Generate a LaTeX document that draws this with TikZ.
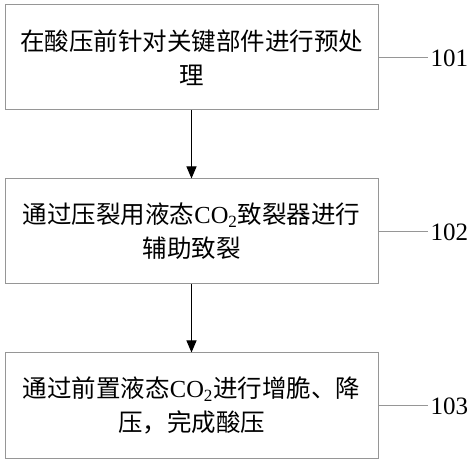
\documentclass[tikz,border=0pt]{standalone}
\usepackage{fontspec}
\setmainfont{Liberation Serif}
\newfontfamily\cjk{Noto Sans CJK SC}
\usetikzlibrary{arrows.meta, positioning}
\definecolor{BoxGray}{RGB}{150,150,150}

\begin{document}
\begin{tikzpicture}[
		x=1pt, y=1pt,
		node distance=68pt,
		base/.style={
			rectangle, draw=BoxGray, line width=1pt,
			minimum width=373pt, minimum height=105pt,
			align=center, inner sep=0pt,
			font=\fontsize{24.5}{34}\selectfont\cjk
		},
		tagline/.style={draw=BoxGray, line width=0.9pt},
		tagText/.style={anchor=west, inner sep=0pt, font=\fontsize{25}{25}\selectfont},
		arrow/.style={-{Triangle[length=12pt, width=10pt]}, line width=1pt, black}
		]
		\useasboundingbox (0,0) rectangle (474,-462);
		
		\node[base] (step1) at (191.5,-57.5) {在酸压前针对关键部件进行预处\\理};
		\node[base] (step2) [below=of step1] {通过压裂用液态{\rmfamily CO\textsubscript{2}}致裂器进行\\辅助致裂};
		\node[base] (step3) [below=of step2] {通过前置液态{\rmfamily CO\textsubscript{2}}进行增脆、降\\压，完成酸压};
		
		\draw [arrow] (step1) -- (step2);
		\draw [arrow] (step2) -- (step3);
		
		% step labels
		\coordinate (tag1) at ([xshift=49pt]step1.east);
		\coordinate (tag2) at ([xshift=49pt]step2.east);
		\coordinate (tag3) at ([xshift=49pt]step3.east);
		\draw [tagline] (step1.east) -- (tag1);
		\draw [tagline] (step2.east) -- (tag2);
		\draw [tagline] (step3.east) -- (tag3);
		\node[tagText] (num1) at ([xshift=3pt,yshift=-1pt]tag1) {101};
		\node[tagText] (num2) at ([xshift=3pt,yshift=-1pt]tag2) {102};
		\node[tagText] (num3) at ([xshift=3pt,yshift=-1pt]tag3) {103};
	\end{tikzpicture}
\end{document}
